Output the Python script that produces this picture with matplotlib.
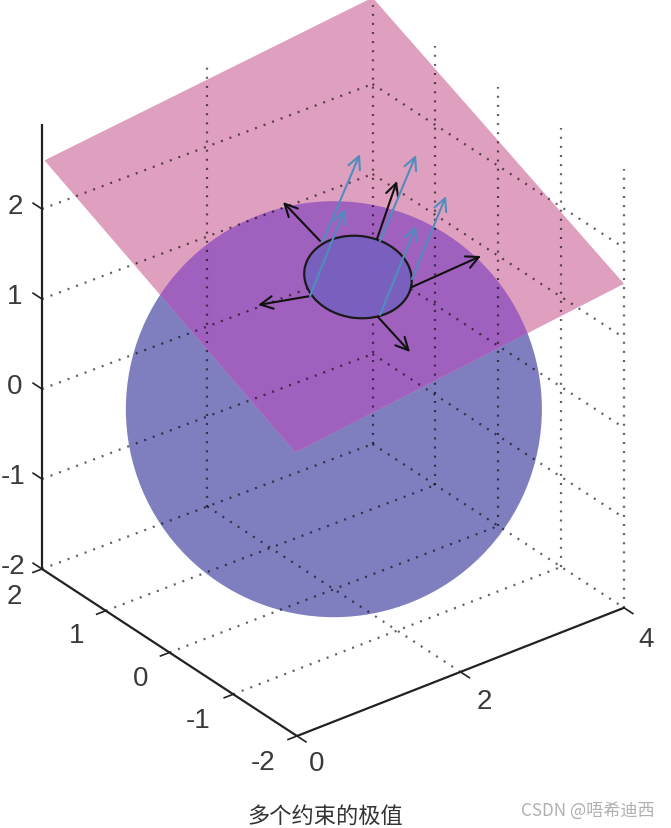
import numpy as np
import matplotlib
matplotlib.use("Agg")
import matplotlib.pyplot as plt
from matplotlib.patches import Circle, Polygon, Ellipse

# ---- data (chart coordinates) ----
x_ticks = [0, 2, 4]
y_ticks = [-2, -1, 0, 1, 2]
z_ticks = [-2, -1, 0, 1, 2]
z_top = 2.88

plane_x = [0.03, 4, 4, -0.02]
plane_y = [2, 2, -2, -2]
plane_z = [2.53, 2.96, 1.60, 1.16]

sphere_center = (2, 0, 0)
sphere_radius_px = 208

ring_center = (2.313, 0, 1.337)

black_start_x = [1.847, 2.546, 2.975, 2.558, 1.724]
black_start_z = [1.906, 1.675, 0.987, 0.804, 1.338]
black_end_x = [1.393, 2.791, 3.822, 2.951, 1.086]
black_end_z = [2.502, 2.231, 1.025, 0.273, 1.469]

blue_start_x = [1.883, 1.724, 2.583, 2.975, 2.583]
blue_start_z = [1.892, 1.338, 1.640, 1.076, 0.818]
blue_end_x = [2.337, 2.153, 3.025, 3.393, 3.025]
blue_end_z = [2.694, 2.150, 2.436, 1.847, 1.647]

x_tick_labels = ["0", "2", "4"]
y_tick_labels = ["-2", "-1", "0", "1", "2"]
z_tick_labels = ["-2", "-1", "0", "1", "2"]
caption = "多个约束的极值"
watermark = "CSDN @唔希迪西"


# ---- projection of the 3D box onto the picture ----
def flat(x, y, z):
    return (169.5 + 81.5 * x - 63.75 * y,
            473.5 - 32.5 * x - 41.75 * y - 90.0 * z)


def proj(x, y, z):
    # slight distortion of the source picture toward the right side of the box
    a, b = flat(x, y, z)
    return (a + x * (0.69 + 0.22 * y), b + x * (0.85 + 0.2 * y))


plt.rcParams['font.family'] = ['Noto Sans CJK SC', 'DejaVu Sans']
fig = plt.figure(figsize=(6.71, 8.29), dpi=100)
ax = fig.add_axes([0, 0, 1, 1])
ax.set_xlim(0, 671)
ax.set_ylim(829, 0)
ax.axis("off")

PINK = "#DFA0BF"
SPHERE = "#7F7FBF"
OVERLAP = "#A060BE"

# sphere, plane, overlap
c = proj(*sphere_center)
ax.add_patch(Circle(c, sphere_radius_px, fc=SPHERE, ec="none", zorder=1))
pts = [proj(a, b, d) for a, b, d in zip(plane_x, plane_y, plane_z)]
poly = Polygon(pts, closed=True, fc=PINK, ec="none", zorder=2)
ax.add_patch(poly)
ov = Circle(c, sphere_radius_px, fc=OVERLAP, ec="none", zorder=3)
ax.add_patch(ov)
ov.set_clip_path(poly)

# dotted box grid
grid_kw = dict(color="#000000", alpha=0.62, lw=1.6,
               linestyle=(0, (0.9, 3.2)), zorder=4, dash_capstyle="butt")


def seg(p, q, **kw):
    a, b = proj(*p), proj(*q)
    ax.plot([a[0], b[0]], [a[1], b[1]], **kw)


for zv in z_ticks:
    seg((0, 2, zv), (4, 2, zv), **grid_kw)
    seg((4, 2, zv), (4, -2, zv), **grid_kw)
for xv in x_ticks[1:]:
    seg((xv, 2, -2), (xv, 2, z_top), **grid_kw)
    if xv != 4:
        seg((xv, 2, -2), (xv, -2, -2), **grid_kw)
for yv in y_ticks[:-1]:
    seg((4, yv, -2), (4, yv, z_top), **grid_kw)
    if yv != -2:
        seg((0, yv, -2), (4, yv, -2), **grid_kw)

# ring on the plane
ax.add_patch(Ellipse(flat(*ring_center), 108, 82, angle=8, fc="#7A60BE",
                     ec="#1a1a1a", lw=1.6, zorder=5))


def arrows(sx, sz, ex, ez, color, lw, z):
    for a, b, d, e in zip(sx, sz, ex, ez):
        ax.annotate("", xy=flat(d, 0, e), xytext=flat(a, 0, b),
                    arrowprops=dict(arrowstyle="->,head_length=0.6,head_width=0.3",
                                    mutation_scale=15,
                                    color=color, lw=lw, shrinkA=0, shrinkB=0),
                    zorder=z)


arrows(black_start_x, black_start_z, black_end_x, black_end_z, "#111111", 1.5, 6)
arrows(blue_start_x, blue_start_z, blue_end_x, blue_end_z, "#4F8DBE", 1.5, 7)

# axes lines and ticks
axis_kw = dict(color="#222222", lw=1.6, zorder=8, solid_capstyle="butt")
seg((0, 2, -2), (0, 2, 2.94), **axis_kw)
seg((0, 2, -2), (0, -2, -2), **axis_kw)
seg((0, -2, -2), (4, -2, -2), **axis_kw)
tick_kw = dict(color="#222222", lw=1.2, zorder=8)
for zv in z_ticks:
    seg((0, 2, zv), (0, 2.14, zv), **tick_kw)
for yv in y_ticks:
    seg((0, yv, -2), (-0.11, yv, -2), **tick_kw)
for xv in x_ticks:
    seg((xv, -2, -2), (xv, -2.14, -2), **tick_kw)

# tick labels
lab_kw = dict(family="Liberation Sans", fontsize=20, color="#3a3a3a",
              ha="center", va="center", zorder=9)
for zv, t in zip(z_ticks, z_tick_labels):
    px, py = proj(0, 2, zv)
    ax.text(px - (29 if zv < 0 else 27), py - 3, t, **lab_kw)
y_lab_pos = [(263, 763), (198, 721), (141, 679), (77, 636), (14, 597)]
for (px, py), t in zip(y_lab_pos, y_tick_labels):
    ax.text(px, py, t, **lab_kw)
x_lab_pos = [(317, 764), (484, 702), (646, 640)]
for (px, py), t in zip(x_lab_pos, x_tick_labels):
    ax.text(px, py, t, **lab_kw)

ax.text(325.5, 816, caption, fontsize=16, color="#333333",
        ha="center", va="center", zorder=9)
ax.text(655, 811, watermark, fontsize=12.3, color="#b0b0b0",
        ha="right", va="center", zorder=9)

fig.savefig("out.png", dpi=100)
